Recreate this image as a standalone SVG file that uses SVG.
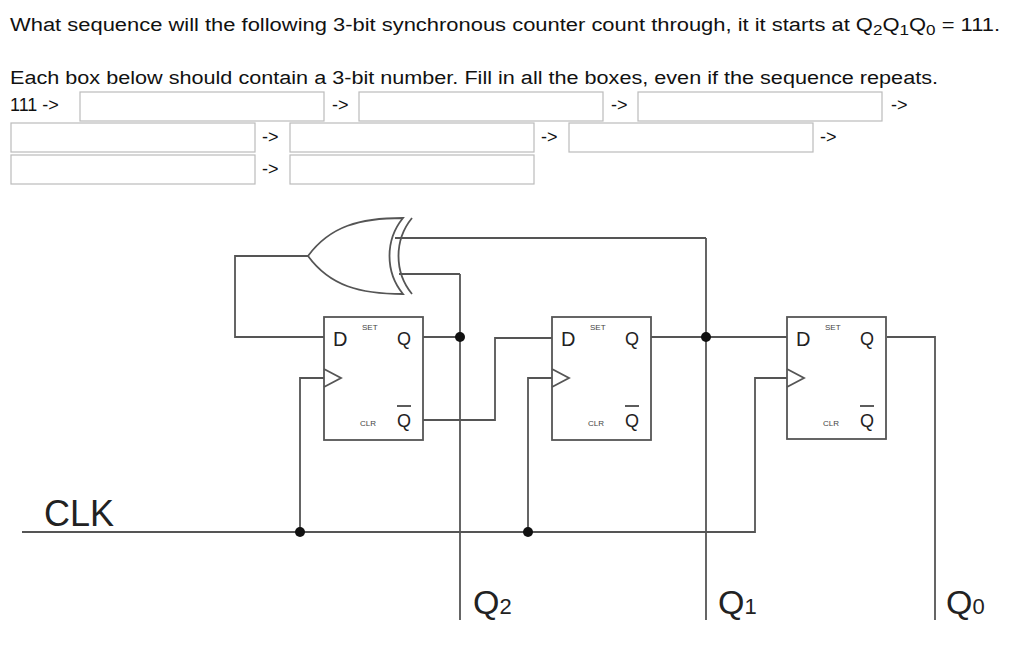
<svg xmlns="http://www.w3.org/2000/svg" width="1024" height="651" viewBox="0 0 1024 651">
<style>
.t{font-family:"Liberation Sans",Arial,sans-serif;font-size:18px;fill:#111}
.box{fill:#fff;stroke:#bbb;stroke-width:1.2}
.w{fill:none;stroke:#555;stroke-width:1.8}
.ff{fill:#fff;stroke:#555;stroke-width:1.8}
.pin{font-family:"Liberation Sans",Arial,sans-serif;fill:#444}
.dot{fill:#111}
.big{font-family:"Liberation Sans",Arial,sans-serif;fill:#222}
</style>
<rect width="1024" height="651" fill="#fff"/>
<g id="question">
<text class="t" x="10" y="31" textLength="990" lengthAdjust="spacingAndGlyphs">What sequence will the following 3-bit synchronous counter count through, it it starts at Q<tspan font-size="14" dy="4">2</tspan><tspan dy="-4">Q</tspan><tspan font-size="14" dy="4">1</tspan><tspan dy="-4">Q</tspan><tspan font-size="14" dy="4">0</tspan><tspan dy="-4"> = 111.</tspan></text>
<text class="t" x="10" y="84" textLength="928" lengthAdjust="spacingAndGlyphs">Each box below should contain a 3-bit number. Fill in all the boxes, even if the sequence repeats.</text>
<text class="t" x="10" y="111">111 -&gt;</text>
<rect class="box" x="80" y="92" width="244" height="29"/>
<text class="t" x="332" y="111">-&gt;</text>
<rect class="box" x="359" y="92" width="244" height="29"/>
<text class="t" x="611" y="111">-&gt;</text>
<rect class="box" x="638" y="92" width="244" height="29"/>
<text class="t" x="891" y="111">-&gt;</text>
<rect class="box" x="11" y="123" width="244" height="29"/>
<text class="t" x="262" y="143">-&gt;</text>
<rect class="box" x="290" y="123" width="244" height="29"/>
<text class="t" x="541" y="143">-&gt;</text>
<rect class="box" x="569" y="123" width="244" height="29"/>
<text class="t" x="820" y="143">-&gt;</text>
<rect class="box" x="11" y="155" width="244" height="29"/>
<text class="t" x="262" y="175">-&gt;</text>
<rect class="box" x="290" y="155" width="244" height="29"/>
</g>
<g id="connectors">
<path class="w" d="M308,256 H235 V337 H324"/>
<path class="w" d="M395,238 H706"/>
<path class="w" d="M399,274 H460"/>
<path class="w" d="M423,337 H460"/>
<path class="w" d="M460,274 V620"/>
<path class="w" d="M423,420 H495 V338 H552"/>
<path class="w" d="M651,337 H787"/>
<path class="w" d="M706,238 V620"/>
<path class="w" d="M887,337 H935 V620"/>
<path class="w" d="M22,532 H755 V378 H787"/>
<path class="w" d="M300,532 V378 H324"/>
<path class="w" d="M528,532 V378 H552"/>
<circle class="dot" cx="460" cy="337" r="5"/>
<circle class="dot" cx="706" cy="337" r="5"/>
<circle class="dot" cx="300" cy="532" r="5"/>
<circle class="dot" cx="528" cy="532" r="5"/>
</g>
<g id="xor">
<path class="ff" d="M308,256 C330,226 360,218 403,218 C385,240 385,272 403,294 C360,294 330,286 308,256 Z"/>
<path class="w" d="M412,218 C394,240 394,272 412,294"/>
</g>
<g id="ff2">
<rect class="ff" x="324" y="317" width="99" height="123"/>
<path class="w" d="M324,369 L341,378 L324,387"/>
<text class="big" x="333" y="346" font-size="20">D</text>
<text class="pin" x="362" y="330" font-size="8">SET</text>
<text class="big" x="397" y="345" font-size="18">Q</text>
<text class="pin" x="360" y="426" font-size="8">CLR</text>
<text class="big" x="397" y="427" font-size="18">Q</text>
<line x1="397" y1="406" x2="411" y2="406" stroke="#333" stroke-width="1.6"/>
</g>
<g id="ff1">
<rect class="ff" x="552" y="317" width="99" height="123"/>
<path class="w" d="M552,369 L569,378 L552,387"/>
<text class="big" x="561" y="346" font-size="20">D</text>
<text class="pin" x="590" y="330" font-size="8">SET</text>
<text class="big" x="625" y="345" font-size="18">Q</text>
<text class="pin" x="588" y="426" font-size="8">CLR</text>
<text class="big" x="625" y="427" font-size="18">Q</text>
<line x1="625" y1="406" x2="639" y2="406" stroke="#333" stroke-width="1.6"/>
</g>
<g id="ff0">
<rect class="ff" x="787" y="317" width="99" height="122"/>
<path class="w" d="M787,369 L804,378 L787,387"/>
<text class="big" x="796" y="346" font-size="20">D</text>
<text class="pin" x="825" y="330" font-size="8">SET</text>
<text class="big" x="860" y="345" font-size="18">Q</text>
<text class="pin" x="823" y="426" font-size="8">CLR</text>
<text class="big" x="860" y="427" font-size="18">Q</text>
<line x1="860" y1="406" x2="874" y2="406" stroke="#333" stroke-width="1.6"/>
</g>
<g id="labels">
<text class="big" x="44" y="526" font-size="36">CLK</text>
<text class="big" x="473" y="614" font-size="34">Q<tspan font-size="22">2</tspan></text>
<text class="big" x="718" y="614" font-size="34">Q<tspan font-size="22">1</tspan></text>
<text class="big" x="946" y="614" font-size="34">Q<tspan font-size="22">0</tspan></text>
</g>
</svg>
